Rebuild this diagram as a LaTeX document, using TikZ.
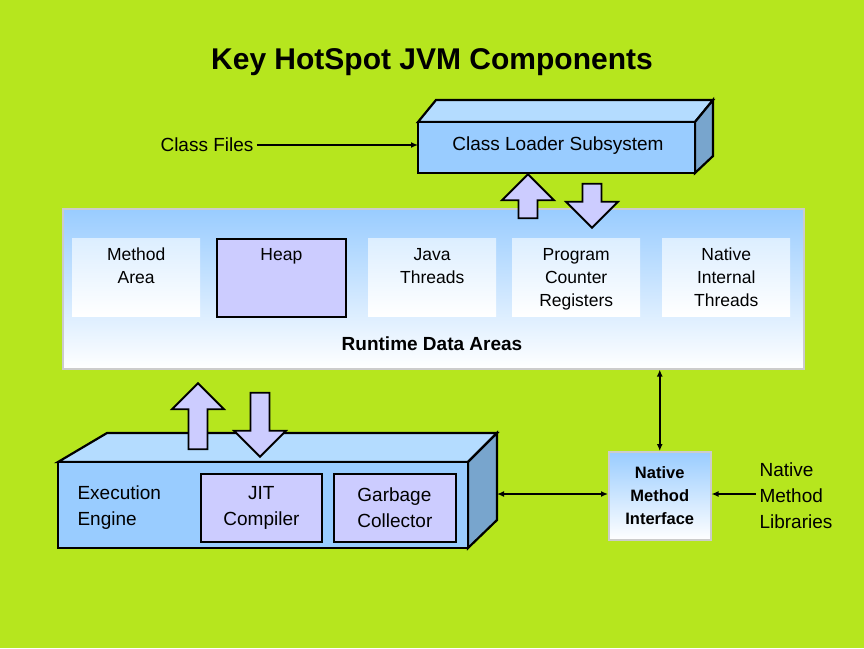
\documentclass[tikz,border=0pt]{standalone}
\usepackage{fontspec}
\setmainfont{Liberation Sans}
\usetikzlibrary{shapes.arrows,arrows.meta}
\definecolor{bg}{RGB}{182,230,30}
\definecolor{boxblue}{RGB}{153,204,255}
\definecolor{topblue}{RGB}{180,220,255}
\definecolor{sideblue}{RGB}{120,165,205}
\definecolor{lav}{RGB}{204,204,255}
\definecolor{paleblue}{RGB}{220,238,255}
\tikzset{
  x=1pt,y=-1pt,
  lbl/.style={font=\fontsize{19}{26}\selectfont,align=center},
  inner/.style={draw=none,top color=paleblue,bottom color=white,minimum width=128pt,minimum height=78pt,anchor=north west,font=\fontsize{17.5}{23}\selectfont,align=center,text depth=0pt},
  blk/.style={single arrow,draw=black,line width=1.8pt,fill=lav,minimum width=52pt,single arrow head extend=12pt,single arrow tip angle=90,single arrow head indent=0pt,inner sep=6pt,minimum height=44pt},
  con/.style={line width=2pt,>={Latex[length=7pt,width=6pt]}},
  face/.style={draw=black,line width=2.2pt,line join=miter}
}
\begin{document}
\begin{tikzpicture}
\fill[bg] (0,0) rectangle (864,648);
\useasboundingbox (0,0) rectangle (864,648);
\node at (432,62) {\fontsize{30}{34}\selectfont\bfseries Key HotSpot JVM Components};
% class loader
\draw[face,fill=topblue] (418,122) -- (436,100) -- (713,100) -- (695,122) -- cycle;
\draw[face,fill=sideblue] (695,122) -- (713,100) -- (713,156) -- (695,173) -- cycle;
\draw[face,fill=boxblue] (418,122) rectangle (695,173);
\node[lbl] (cls) at (558,146) {Class Loader Subsystem};
\coordinate (clsw) at (418,145);
\node[lbl] (cf) at (207,145) {Class Files};
\draw[con,->] (cf.east |- clsw) -- (clsw);
% runtime
\node[draw=gray!40,line width=1.5pt,top color=boxblue,bottom color=white,minimum width=741pt,minimum height=160pt,anchor=north west] (rda) at (62,208) {};
\node[font=\fontsize{19}{20}\selectfont\bfseries] (rdl) at (432,344) {Runtime Data Areas};
\node[inner] (ma) at (72,238) {Method\\Area\\\strut};
\node[inner,top color=lav,bottom color=lav,draw=black,line width=1.8pt,minimum width=129pt] (heap) at (216,238) {Heap\\\strut\\\strut};
\node[inner] (jt) at (368,238) {Java\\Threads\\\strut};
\node[inner] (pc) at (512,238) {Program\\Counter\\Registers};
\node[inner] (nit) at (662,238) {Native\\Internal\\Threads};
\node[blk,shape border rotate=90] (cu) at (528,201) {};
\node[blk,shape border rotate=270] (cd) at (592,201) {};
% execution engine
\draw[face,fill=topblue] (58,462) -- (107,433) -- (497,433) -- (468,462) -- cycle;
\draw[face,fill=sideblue] (468,462) -- (497,433) -- (497,520) -- (468,548) -- cycle;
\draw[face,fill=boxblue] (58,462) rectangle (468,548);
\node[lbl,align=left,anchor=west] (ee) at (74,508) {Execution\\Engine};
\node[draw=black,line width=1.8pt,fill=lav,minimum width=121pt,minimum height=68pt,anchor=north west,lbl] (jit) at (200,473) {JIT\\Compiler};
\node[draw=black,line width=1.8pt,fill=lav,minimum width=122pt,minimum height=68pt,anchor=north west,lbl,align=left] (gc) at (333,473) {Garbage\\Collector};
\node[blk,shape border rotate=90,minimum height=66pt] (eu) at (198,421) {};
\node[blk,shape border rotate=270,minimum height=64pt] (ed) at (260,420) {};
% native
\node[draw=gray!40,line width=1.5pt,top color=boxblue,bottom color=white,minimum width=102pt,minimum height=88pt,anchor=north west,font=\fontsize{16.5}{23}\selectfont\bfseries,align=center] (nmi) at (608,451) {Native\\Method\\Interface};
\coordinate (eer) at (497,494);
\draw[con,<->] (rda.south -| nmi.north) -- (nmi.north);
\draw[con,<->] (eer) -- (nmi.west |- eer);
\node[lbl,align=left,anchor=west] (nml) at (756,496) {Native\\Method\\Libraries};
\draw[con,->] (nml.west |- eer) -- (nmi.east |- eer);
\end{tikzpicture}
\end{document}
